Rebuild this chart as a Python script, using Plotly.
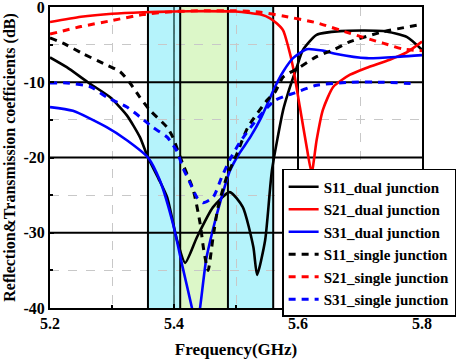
import plotly.graph_objects as go

# ---- data ----
f_s11_dual = [5.200, 5.227, 5.261, 5.297, 5.324, 5.345, 5.358, 5.375, 5.389, 5.405, 5.418,
              5.437, 5.463, 5.490, 5.511, 5.528, 5.534, 5.547, 5.558, 5.576, 5.584, 5.598,
              5.608, 5.630, 5.668, 5.737, 5.776, 5.800]
s11_dual = [-6.7, -8.0, -10.0, -12.0, -14.4, -17.3, -20.0, -22.8, -25.3, -31.0, -34.0,
            -30.6, -26.6, -24.6, -26.6, -31.9, -35.6, -31.0, -21.7, -13.7, -11.4, -8.0,
            -5.7, -3.7, -3.2, -3.2, -4.0, -5.7]

f_s21_dual = [5.200, 5.250, 5.300, 5.350, 5.400, 5.450, 5.500, 5.523, 5.540, 5.555, 5.566,
              5.576, 5.584, 5.592, 5.603, 5.614, 5.622, 5.630, 5.640, 5.657, 5.684, 5.710,
              5.748, 5.776, 5.800]
s21_dual = [-2.0, -1.3, -0.9, -0.7, -0.6, -0.55, -0.6, -0.8, -1.0, -1.5, -2.2,
            -3.1, -5.2, -8.0, -13.3, -18.6, -22.0, -17.7, -13.7, -10.6, -9.0, -8.1,
            -7.0, -6.0, -4.6]

f_s31_dual = [5.200, 5.237, 5.292, 5.324, 5.358, 5.377, 5.398, 5.414, 5.429, 5.436, 5.442,
              5.452, 5.463, 5.476, 5.490, 5.505, 5.523, 5.540, 5.563, 5.576, 5.592, 5.614,
              5.640, 5.660, 5.711, 5.765, 5.800]
s31_dual = [-13.3, -13.8, -16.0, -17.7, -20.0, -23.0, -28.7, -34.6, -40.0, -43.0, -40.0,
            -33.5, -29.5, -25.5, -21.8, -19.5, -17.3, -14.8, -10.6, -8.6, -6.8, -5.6,
            -5.8, -6.2, -6.8, -6.6, -6.4]

f_s11_single = [5.200, 5.221, 5.253, 5.286, 5.313, 5.329, 5.345, 5.361, 5.389, 5.398, 5.414,
                5.431, 5.442, 5.448, 5.455, 5.463, 5.471, 5.485, 5.502, 5.519, 5.550, 5.563,
                5.576, 5.603, 5.630, 5.657, 5.684, 5.737, 5.800]
s11_single = [-4.1, -4.8, -6.2, -7.5, -8.6, -10.1, -12.0, -13.7, -16.0, -17.3, -20.8,
              -24.3, -28.7, -32.3, -35.0, -30.6, -26.6, -22.6, -19.4, -16.0, -12.4, -11.3,
              -9.3, -8.0, -6.6, -5.7, -4.6, -3.3, -2.3]

f_s21_single = [5.200, 5.250, 5.300, 5.350, 5.400, 5.450, 5.500, 5.540, 5.576, 5.630, 5.684,
                5.737, 5.770, 5.800]
s21_single = [-3.6, -2.6, -1.8, -1.0, -0.6, -0.5, -0.5, -0.7, -1.2, -2.1, -3.5,
              -4.8, -5.6, -5.8]

f_s31_single = [5.200, 5.227, 5.265, 5.292, 5.324, 5.345, 5.366, 5.389, 5.405, 5.414, 5.426,
                5.437, 5.447, 5.463, 5.477, 5.490, 5.506, 5.535, 5.563, 5.595, 5.630, 5.684,
                5.737, 5.790]
s31_single = [-10.1, -10.1, -10.6, -12.0, -13.3, -14.6, -16.0, -17.3, -19.2, -21.3, -23.4,
              -25.3, -26.0, -25.3, -22.6, -20.3, -18.0, -14.8, -12.4, -11.4, -10.4, -10.0,
              -10.0, -10.2]

series_names = ["S11_dual junction", "S21_dual junction", "S31_dual junction",
                "S11_single junction", "S21_single junction", "S31_single junction"]

band_outer = [5.358, 5.560]
band_inner = [5.410, 5.487]
marker_lines = [5.358, 5.410, 5.487, 5.560, 5.600]
h_lines = [-10, -20, -30]

x_ticks = [5.2, 5.4, 5.6, 5.8]
y_ticks = [0, -10, -20, -30, -40]

# ---- figure ----
FONT = "Liberation Serif"
RED = "#ff0000"
BLUE = "#0000ff"
BLACK = "#000000"

fig = go.Figure()

specs = [
    (f_s11_dual, s11_dual, BLACK, "solid"),
    (f_s21_dual, s21_dual, RED, "solid"),
    (f_s31_dual, s31_dual, BLUE, "solid"),
    (f_s11_single, s11_single, BLACK, "7px,6px"),
    (f_s21_single, s21_single, RED, "7px,6px"),
    (f_s31_single, s31_single, BLUE, "7px,6px"),
]
for (xs, ys, col, dash), name in zip(specs, series_names):
    fig.add_trace(go.Scatter(
        x=xs, y=ys, mode="lines", name=name,
        line=dict(color=col, width=3 if dash != "solid" else 2.6, dash=dash,
                  shape="spline", smoothing=0.6),
    ))

shapes = []
shapes.append(dict(type="rect", xref="x", yref="y", x0=band_outer[0], x1=band_outer[1],
                   y0=-40, y1=0, fillcolor="#b5f3fb", line=dict(width=0), layer="below"))
shapes.append(dict(type="rect", xref="x", yref="y", x0=band_inner[0], x1=band_inner[1],
                   y0=-40, y1=0, fillcolor="#dcf7c8", line=dict(width=0), layer="below"))
shapes.append(dict(type="line", xref="x", yref="y", x0=5.4, x1=5.4, y0=-40, y1=0,
                   line=dict(color="#1f4f4f", width=1.5), layer="between"))
for xv in marker_lines:
    shapes.append(dict(type="line", xref="x", yref="y", x0=xv, x1=xv, y0=-40, y1=0,
                       line=dict(color=BLACK, width=2), layer="between"))
for yv in h_lines:
    shapes.append(dict(type="line", xref="x", yref="y", x0=5.2, x1=5.8, y0=yv, y1=yv,
                       line=dict(color=BLACK, width=2), layer="between"))

fig.update_layout(
    width=474, height=361,
    margin=dict(l=50, r=52, t=7, b=53, autoexpand=False),
    paper_bgcolor="white", plot_bgcolor="white",
    font=dict(family=FONT, color="black"),
    shapes=shapes,
    showlegend=True,
    legend=dict(x=0.624, y=0.462, xanchor="left", yanchor="top",
                bgcolor="white", bordercolor="black", borderwidth=1.5,
                font=dict(family=FONT, size=15, weight="bold", color="black"),
                tracegroupgap=0, itemwidth=30),
)

fig.update_xaxes(
    range=[5.2, 5.8], tickvals=x_ticks, ticktext=[f"{v:.1f}" for v in x_ticks],
    showline=True, mirror=True, linecolor="black", linewidth=2,
    ticks="inside", ticklen=4, tickwidth=2, tickcolor="black",
    showgrid=False, zeroline=False, automargin=False, ticklabeloverflow="allow",
    minor=dict(dtick=0.1, tick0=5.2, showgrid=True, gridcolor="#c8c8c8", griddash="dash",
               gridwidth=1, ticks="inside", ticklen=3, tickcolor="black", tickwidth=2),
    tickfont=dict(family=FONT, size=16, weight="bold"),
    title=dict(text="Frequency(GHz)", font=dict(family=FONT, size=17, weight="bold"), standoff=12),
)
fig.update_yaxes(
    range=[-40, 0], tickvals=y_ticks, ticktext=[str(v) for v in y_ticks],
    showline=True, mirror=True, linecolor="black", linewidth=2,
    ticks="inside", ticklen=4, tickwidth=2, tickcolor="black",
    showgrid=False, zeroline=False, automargin=False, ticklabeloverflow="allow",
    minor=dict(dtick=5, tick0=0, showgrid=True, gridcolor="#c8c8c8", griddash="dash",
               gridwidth=1, ticks="inside", ticklen=3, tickcolor="black", tickwidth=2),
    tickfont=dict(family=FONT, size=16, weight="bold"),
    title=dict(text="Reflection&Transmission coefficients (dB)",
               font=dict(family=FONT, size=16, weight="bold"), standoff=4),
)

fig.write_html("out.html",
               config={"displayModeBar": False},
               post_script="document.body.style.margin='0';document.body.style.overflow='hidden';")
